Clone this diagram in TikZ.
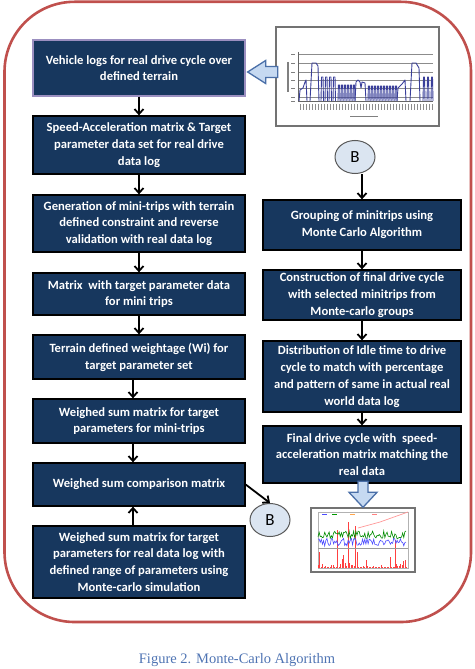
\documentclass[tikz,border=0pt]{standalone}
\usepackage{fontspec}
\setmainfont{Carlito}
\newfontfamily\capfont{Liberation Serif}
\usetikzlibrary{arrows.meta,shapes.geometric,calc}
\definecolor{navy}{HTML}{17375E}
\definecolor{frameRed}{HTML}{C0504D}
\definecolor{bubble}{HTML}{DBE5F1}
\definecolor{hollowfill}{HTML}{C6D9F1}
\definecolor{hollowline}{HTML}{4A6FA8}
\definecolor{capblue}{HTML}{4F74B3}
\definecolor{lav}{HTML}{9B8FC0}
\definecolor{tracebl}{HTML}{3A3F9A}
\tikzset{
  box/.style={draw=black, line width=1.3pt, fill=navy, text=white, align=center,
    minimum width=212pt, inner sep=1pt,
    font=\bfseries\fontsize{12.6}{16.8}\selectfont},
  rbox/.style={box, minimum width=198pt},
  conn/.style={draw=black, line width=1.8pt, -{Straight Barb[length=5pt,width=9pt]}},
  bubbleB/.style={ellipse, draw=black!65, line width=1pt, fill=bubble,
    minimum width=40pt, minimum height=33pt, inner sep=0pt, font=\fontsize{17}{17}\selectfont},
  hollow/.style={draw=hollowline, fill=hollowfill, line width=1.3pt, line join=miter},
  chartframe/.style={draw=black!55, line width=1.4pt, fill=white},
  grid/.style={draw=black!45, line width=0.5pt},
}
\begin{document}
\begin{tikzpicture}[x=1pt,y=-1pt]
\useasboundingbox (0,0) rectangle (474,669);
% outer frame
\draw[draw=frameRed, line width=2.6pt, rounded corners=70pt] (4.5,1.8) rectangle (471,622);

% left column
\node[box, draw=lav, minimum height=56pt, font=\bfseries\fontsize{12.6}{15.5}\selectfont] (b1) at (139,68) {Vehicle logs for real drive cycle over\\defined terrain};
\node[box, minimum height=58pt] (b2) at (139,145) {Speed-Acceleration matrix \& Target\\parameter data set for real drive\\data log};
\node[box, minimum height=57pt] (b3) at (139,223.5) {Generation of mini-trips with terrain\\defined constraint and reverse\\validation with real data log};
\node[box, minimum height=42pt] (b4) at (139,294) {Matrix\ \ with target parameter data\\for mini trips};
\node[box, minimum height=44pt] (b5) at (139,357) {Terrain defined weightage (Wi) for\\target parameter set};
\node[box, minimum height=44pt] (b6) at (139,421) {Weighed sum matrix for target\\parameters for mini-trips};
\node[box, minimum height=43pt] (b7) at (139,484.5) {Weighed sum comparison matrix};
\node[box, minimum height=72pt] (b8) at (139,562) {Weighed sum matrix for target\\parameters for real data log with\\defined range of parameters using\\Monte-carlo simulation};

% right column
\node[bubbleB] (B1) at (355,157) {B};
\node[rbox, minimum height=50pt] (r1) at (362,225) {Grouping of minitrips using\\Monte Carlo Algorithm};
\node[rbox, minimum height=50pt] (r2) at (362,295) {Construction of final drive cycle\\with selected minitrips from\\Monte-carlo groups};
\node[rbox, minimum height=71pt] (r3) at (362,376.5) {Distribution of Idle time to drive\\cycle to match with percentage\\and pattern of same in actual real\\world data log};
\node[rbox, minimum height=57pt] (r4) at (362,454.5) {Final drive cycle with\ \ speed-\\acceleration matrix matching the\\real data};
\node[bubbleB] (B2) at (270,520) {B};

% connectors
\draw[conn] (b1.south) -- (b2.north);
\draw[conn] (b2.south) -- (b3.north);
\draw[conn] (b3.south) -- (b4.north);
\draw[conn] (b4.south) -- (b5.north);
\draw[conn] ([xshift=-6pt]b5.south) -- ([xshift=-6pt]b6.north);
\draw[conn] ([xshift=-6pt]b6.south) -- ([xshift=-6pt]b7.north);
\draw[conn] ([xshift=-6pt]b8.north) -- ([xshift=-6pt]b7.south);
\draw[conn] (b7.east) -- (B2.north);
\draw[conn] (B1.south -| r1.north) -- (r1.north);
\draw[conn] (r1.south) -- (r2.north);
\draw[conn] (r2.south) -- (r3.north);
\draw[conn] (r3.south) -- (r4.north);

% chart 1 (real drive log)
\node[chartframe, minimum width=163pt, minimum height=99pt, inner sep=0pt] (c1) at (357.5,76.5) {};
\foreach \gy in {54,63,72,80,88,97} \draw[grid] (298,\gy) -- (433,\gy);
\draw[black!60, line width=0.6pt] (298,101) -- (433,101);
\draw[black!60, line width=0.6pt] (298,52) -- (298,101);
\foreach \gy in {54,63,72,80,88,97,101} \draw[black!50, line width=0.8pt] (291,\gy) -- (295,\gy);
\draw[black!50, line width=1.2pt] (288,62) -- (288,92);
\foreach \tx in {300,303,...,432} \draw[black!45, line width=0.7pt] (\tx,104) -- (\tx,110);
\draw[black!50, line width=1pt] (350,116) -- (378,116);
\begin{scope}[tracebl, line width=0.9pt, line join=round]
\draw (299,101) -- (300,90) -- (303,88) -- (305,82) -- (306,80) -- (307,101);
\draw (310,101) -- (312,63) -- (316,63) -- (318,66) -- (319,101);
\foreach \p in {321,325,329,333} \draw (\p,101) -- (\p+0.5,77) -- (\p+2,77) -- (\p+2.5,101);
\foreach \p in {338,341,344,347,350,353} \draw (\p,101) -- (\p+0.4,85) -- (\p+1.6,85) -- (\p+2,101);
\draw (355,101) -- (356,82) -- (358,80) -- (360,82) -- (361,88) -- (362,82) -- (365,83) -- (366,101);
\foreach \p in {368,371,374,377,380,383,386,389,392,395} \draw (\p,101) -- (\p+0.4,86) -- (\p+1.6,86) -- (\p+2,101);
\draw (397,101) -- (398,88) -- (402,84) -- (405,80) -- (406,101);
\draw (410,101) -- (412,63) -- (416,63) -- (419,68) -- (420,101);
\foreach \p in {423,427,431} \draw (\p,101) -- (\p+0.5,77) -- (\p+1.5,77) -- (\p+2,101);
\end{scope}

% hollow arrow into box 1
\draw[hollow] ([xshift=2pt,yshift=-4pt]b1.east) -- ++(18,-11.5) -- ++(0,6) -- ++(12,0) -- ++(0,11) -- ++(-12,0) -- ++(0,6) -- cycle;

% chart 2 (final drive cycle)
\node[chartframe, minimum width=104pt, minimum height=64pt, inner sep=0pt] (c2) at (363,540) {};
\draw[black!30, line width=0.5pt] (318,512) rectangle (408,568);
\foreach \lx/\lc in {322/blue!70, 332/green!60!black, 350/orange!70, 372/red!50} \draw[\lc, line width=0.8pt] (\lx,514) -- (\lx+5,514);
\pgfmathsetseed{11}
\foreach \i in {318,319.5,...,407} {
  \pgfmathsetmacro{\hh}{1+20*rnd^5}
  \draw[red!75, line width=0.55pt] (\i,568) -- (\i,{568-\hh});
}
\draw[red!75, line width=0.7pt] (348,568) -- (348,522);
\draw[red!75, line width=0.7pt] (355,568) -- (355,526);
\draw[red!75, line width=0.7pt] (337,568) -- (337,530);
\draw[red!75, line width=0.6pt] (395,568) -- (395,540);
\draw[pink!80!red, line width=0.7pt] (358,528) -- (380,522) -- (408,512);
\draw[green!55!black, line width=0.6pt] plot[domain=318:406, samples=80] (\x,{535+4*rand});
\draw[blue!70, line width=0.6pt] plot[domain=318:406, samples=80] (\x,{542+4*rand});
\draw[black!40, line width=0.6pt] (318,548) -- (408,548);

% hollow arrow down to chart 2
\draw[hollow] (c2.north) -- ++(-14,-15) -- ++(9,0) -- ++(0,-11) -- ++(10,0) -- ++(0,11) -- ++(9,0) -- cycle;

% caption
\node[font=\capfont\fontsize{14.5}{14.5}\selectfont, text=capblue] (cap) at (237,660) {Figure 2. Monte-Carlo Algorithm};
\end{tikzpicture}
\end{document}
